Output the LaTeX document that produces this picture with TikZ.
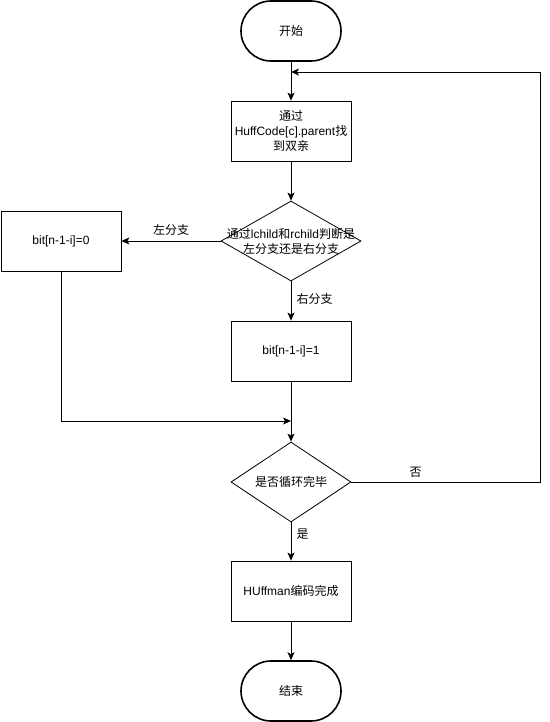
\documentclass[tikz,border=0pt]{standalone}
\usepackage{fontspec}
\setmainfont{Liberation Sans}
\newfontfamily\cjk{Noto Sans CJK SC}
\usetikzlibrary{arrows.meta,shapes.geometric}
\newcommand{\zh}[1]{{\cjk #1}}
\begin{document}
\begin{tikzpicture}[x=1pt,y=-1pt,
    font=\fontsize{12}{15}\selectfont,
    term/.style={draw,line width=1.6pt,rounded corners=30pt,minimum width=100pt,minimum height=60pt,inner sep=0pt},
    proc/.style={draw,line width=0.8pt,minimum width=120pt,minimum height=60pt,inner sep=0pt,align=center},
    dec/.style={draw,line width=0.8pt,diamond,inner sep=0pt},
    arr/.style={draw,line width=0.8pt,-{Stealth[length=8pt,width=7pt,inset=2pt]}}]
  \useasboundingbox (0,0) rectangle (549,722);
  \draw
    (291,31) node[term] (start){\zh{开始}}
    (291,131) node[proc] (find){\zh{通过}\\HuffCode[c].parent\zh{找}\\\zh{到双亲}}
    (291,241) node[dec,minimum width=140pt,minimum height=80pt,
      label={[align=center,font=\fontsize{12}{15}\selectfont]center:\zh{通过}lchild\zh{和}rchild\zh{判断是}\\\zh{左分支还是右分支}}] (side){}
    (61,241) node[proc] (zero){bit[n-1-i]=0}
    (291,351) node[proc] (one){bit[n-1-i]=1}
    (291,482) node[dec,minimum width=120pt,minimum height=80pt,
      label={[font=\fontsize{12}{15}\selectfont]center:\zh{是否循环完毕}}] (done){}
    (291,591) node[proc] (finish){HUffman\zh{编码完成}}
    (291,691) node[term] (stop){\zh{结束}};
  \coordinate (back) at (291,72);
  \coordinate (turn) at (540,72);
  \coordinate (merge) at (291,421);
  \begin{scope}[arr]
    \draw (start) to (find);
    \draw (find) to (side);
    \draw (side.west) to node[above,pos=0.5,yshift=2pt]{\zh{左分支}} (zero.east);
    \draw (side.south) to node[right,pos=0.45,xshift=2pt]{\zh{右分支}} (one.north);
    \draw (zero.south) |- (merge);
    \draw (one.south) to (done.north);
    \draw (done.east) -| node[above,pos=0.17,yshift=1pt]{\zh{否}} (turn) -- (back);
    \draw (done.south) to node[right,pos=0.3,xshift=2pt]{\zh{是}} (finish.north);
    \draw (finish) to (stop);
  \end{scope}
\end{tikzpicture}
\end{document}
